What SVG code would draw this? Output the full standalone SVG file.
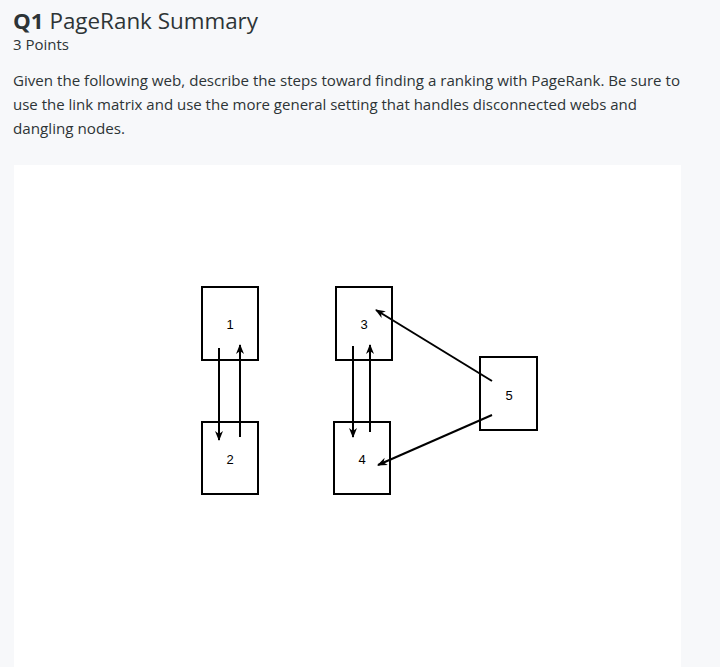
<svg xmlns="http://www.w3.org/2000/svg" width="720" height="667" viewBox="0 0 720 667">
<style>
.h{font-family:"Open Sans","Liberation Sans",sans-serif;fill:#2d3436}
.b{fill:#fff;stroke:#000;stroke-width:2}
.l{font-family:"Liberation Sans",sans-serif;font-size:13px;fill:#000;text-anchor:middle}
.c line{stroke:#000;stroke-width:2;marker-end:url(#a)}
</style>
<defs><marker id="a" viewBox="0 0 10 10" refX="9" refY="5" markerWidth="5" markerHeight="5" orient="auto"><path d="M0,1L10,5L0,9L3,5z" fill="#000"/></marker></defs>
<rect width="720" height="667" fill="#f7f8fa"/>
<text class="h" x="13" y="29" font-size="21" textLength="245" lengthAdjust="spacingAndGlyphs"><tspan font-weight="bold">Q1</tspan> PageRank Summary</text>
<text class="h" x="13" y="50" font-size="14" fill="#555" textLength="56" lengthAdjust="spacingAndGlyphs">3 Points</text>
<text class="h" font-size="15" x="13" y="86" textLength="667" lengthAdjust="spacingAndGlyphs">Given the following web, describe the steps toward finding a ranking with PageRank. Be sure to</text>
<text class="h" font-size="15" x="13" y="110" textLength="624" lengthAdjust="spacingAndGlyphs">use the link matrix and use the more general setting that handles disconnected webs and</text>
<text class="h" font-size="15" x="13" y="134" textLength="112" lengthAdjust="spacingAndGlyphs">dangling nodes.</text>
<rect x="14" y="165" width="667" height="502" fill="#fff"/>
<g id="n1"><rect class="b" x="202" y="287" width="56" height="73"/><text class="l" x="230" y="329">1</text></g>
<g id="n2"><rect class="b" x="202" y="422" width="56" height="72"/><text class="l" x="230" y="464">2</text></g>
<g id="n3"><rect class="b" x="336" y="287" width="56" height="73"/><text class="l" x="364" y="329">3</text></g>
<g id="n4"><rect class="b" x="334" y="422" width="56" height="72"/><text class="l" x="362" y="464">4</text></g>
<g id="n5"><rect class="b" x="480" y="357" width="57" height="73"/><text class="l" x="509" y="400">5</text></g>
<g class="c">
<line x1="219" y1="348" x2="219" y2="440"/>
<line x1="240" y1="437" x2="240" y2="345"/>
<line x1="353" y1="346" x2="353" y2="437"/>
<line x1="370" y1="432" x2="370" y2="345"/>
<line x1="492" y1="381" x2="376" y2="310"/>
<line x1="492" y1="415" x2="378" y2="465"/>
</g>
</svg>
